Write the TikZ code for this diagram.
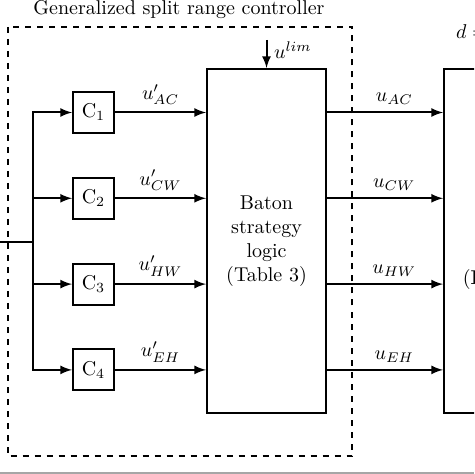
\documentclass[tikz,border=0pt]{standalone}
\usepackage{amsmath}
\usetikzlibrary{positioning}
\tikzset{%
  ctrlnode/.style={rectangle, draw, line width=1pt, minimum size=20.5pt, inner sep=1pt},
  logicnode/.style={rectangle, draw, line width=1pt, minimum width=59.5pt, minimum height=172pt, align=center},
  plantnode/.style={rectangle, draw, line width=1pt, minimum width=80pt, minimum height=172pt},
  sig/.style={-latex, line width=1pt},
}

\begin{document}
\begin{tikzpicture}[x=0.5pt,y=-0.5pt]
    \useasboundingbox (0,0) rectangle (474,474);
    \clip (0,0) rectangle (474,474);

    %Frame
    \node (title) at (179,10) {Generalized split range controller};
    \draw[dashed, line width=1pt] (7.5,27) rectangle (352,456);

    %Nodes
    \node[ctrlnode] (c1) at (93.5,112.5) {$\mathrm{C}_1$};
    \node[ctrlnode] (c2) [below=21.4pt of c1] {$\mathrm{C}_2$};
    \node[ctrlnode] (c3) [below=21.4pt of c2] {$\mathrm{C}_3$};
    \node[ctrlnode] (c4) [below=21.4pt of c3] {$\mathrm{C}_4$};
    \node[logicnode] (baton) at (266.5,241) {Baton\\strategy\\logic\\(Table 3)};
    \node[plantnode] (plant) [right=58pt of baton] {};
    \node[anchor=west, inner sep=0pt] (plantlbl) at (462.5,280) {(\textbf{I}};
    \node[anchor=west] (dist) at (449,32) {$d =$};

    %Lines
    \coordinate (in) at (0,242);
    \coordinate (split) at (33,242);
    \coordinate (lim) at (266.5,40);
    \draw[line width=1pt] (in) -- (split);
    \draw[sig] (split) |- (c1);
    \draw[sig] (split) |- (c2);
    \draw[sig] (split) |- (c3);
    \draw[sig] (split) |- (c4);

    \draw[sig] (c1) -- node[above]{$u'_{AC}$} (baton.west |- c1);
    \draw[sig] (c2) -- node[above]{$u'_{CW}$} (baton.west |- c2);
    \draw[sig] (c3) -- node[above]{$u'_{HW}$} (baton.west |- c3);
    \draw[sig] (c4) -- node[above]{$u'_{EH}$} (baton.west |- c4);

    \draw[sig] (lim) -- node[right, pos=0.35]{$u^{lim}$} (baton);

    \draw[sig] (baton.east |- c1) -- node[above, pos=0.58]{$u_{AC}$} (plant.west |- c1);
    \draw[sig] (baton.east |- c2) -- node[above, pos=0.58]{$u_{CW}$} (plant.west |- c2);
    \draw[sig] (baton.east |- c3) -- node[above, pos=0.58]{$u_{HW}$} (plant.west |- c3);
    \draw[sig] (baton.east |- c4) -- node[above, pos=0.58]{$u_{EH}$} (plant.west |- c4);

    \fill[gray!70] (0,472) rectangle (474,474);
\end{tikzpicture}
\end{document}
